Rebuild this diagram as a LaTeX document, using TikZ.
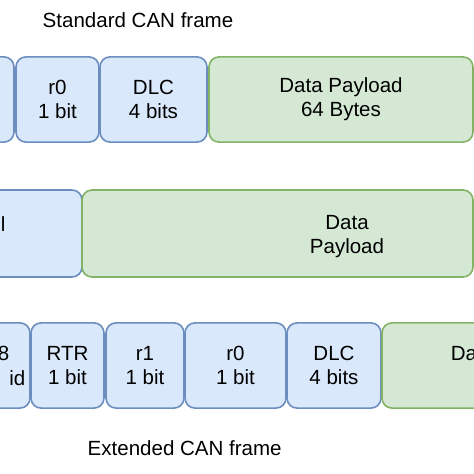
\documentclass[tikz,border=0pt]{standalone}
\usepackage{fontspec}
\setmainfont{Liberation Sans}
\usetikzlibrary{positioning}
\definecolor{fieldfill}{HTML}{DAE8FC}
\definecolor{fielddraw}{HTML}{6C8EBF}
\definecolor{datafill}{HTML}{D5E8D4}
\definecolor{datadraw}{HTML}{82B366}
\newcommand{\framefont}{\fontsize{14.6}{17.1}\selectfont}
\tikzset{
    field/.style={draw=fielddraw, fill=fieldfill, line width=0.4mm, rounded corners=0.25cm, align=center, inner sep=0pt},
    datafield/.style={field, draw=datadraw, fill=datafill},
    caption/.style={anchor=base},
    edgetext/.style={inner sep=0pt}
}
\newcommand{\drawfield}[5]{
    \node [#1, minimum width=#4cm, minimum height=2.13cm] (#2) at (#3) {#5};
}

\begin{document}
\begin{tikzpicture}[font=\framefont]
    \useasboundingbox (0,0) rectangle (11.85,-11.85);
    % standard frame
    \node [caption] (stdtitle) at (3.45,-0.675) {Standard CAN frame};
    \drawfield{field}{stdid}{-0.45,-2.4875}{1.6}{};
    \drawfield{field}{stdrzero}{1.4375,-2.4875}{2.075}{r0\\1 bit};
    \drawfield{field}{stddlc}{3.8375,-2.4875}{2.675}{DLC\\4 bits};
    \drawfield{datafield}{stddata}{8.525,-2.4875}{6.6}{Data Payload\\64 Bytes};
    % second frame
    \node [field, minimum width=3.55cm, minimum height=2.175cm] (fdctrl) at (0.275,-5.8375) {};
    \node [edgetext, anchor=base east] (fdctrltxt) at (0.14,-5.775) {l};
    \node [datafield, minimum width=9.775cm, minimum height=2.175cm,
           label={[align=center, xshift=1.7375cm, yshift=-0.08cm]center:Data\\Payload}] (fddata) at (6.9375,-5.8375) {};
    % extended frame
    \drawfield{field}{extid}{-0.375,-9.1375}{2.25}{};
    \node [edgetext, anchor=base east] (extidtop) at (0.24,-9.0175) {8};
    \node [edgetext, anchor=base east] (extidbot) at (0.64,-9.625) {id};
    \drawfield{field}{extrtr}{1.6875,-9.1375}{1.825}{RTR\\1 bit};
    \drawfield{field}{extrone}{3.625,-9.1375}{1.95}{r1\\1 bit};
    \drawfield{field}{extrzero}{5.8875,-9.1375}{2.525}{r0\\1 bit};
    \drawfield{field}{extdlc}{8.35,-9.1375}{2.35}{DLC\\4 bits};
    \drawfield{datafield}{extdata}{11.775,-9.1375}{4.45}{};
    \node [edgetext, anchor=base west] (extdatatxt) at (11.265,-9.0175) {Da};
    \node [caption] (exttitle) at (4.6175,-11.375) {Extended CAN frame};
\end{tikzpicture}
\end{document}
